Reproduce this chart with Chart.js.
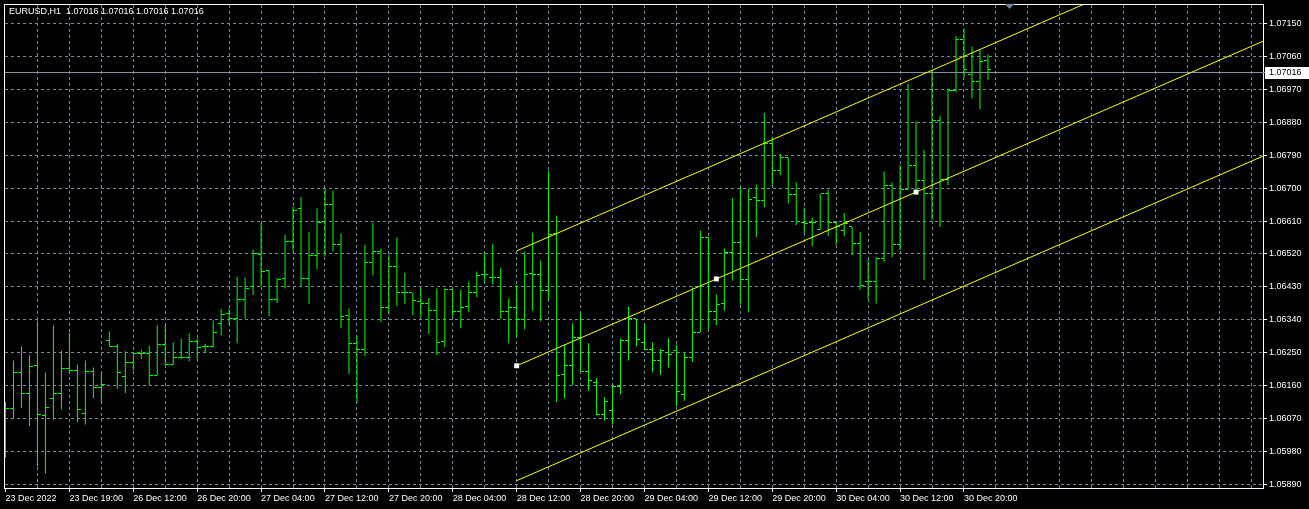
<!DOCTYPE html>
<html><head><meta charset="utf-8">
<script src="https://cdn.jsdelivr.net/npm/chart.js@4.4.0/dist/chart.umd.min.js"></script>
<style>html,body{margin:0;padding:0;background:#000;overflow:hidden}canvas{display:block}</style>
</head><body>
<canvas id="c" width="1309" height="509" style="width:1309px;height:509px"></canvas>
<script>
// ---- data (EURUSD H1) ----
const titleText = 'EURUSD,H1  1.07016 1.07016 1.07016 1.07016';
const opens = [
1.06084,1.06097,1.06195,1.06138,1.06215,1.06078,1.06125,1.06138,1.06206,1.06201,
1.06084,1.06198,1.06156,1.06283,1.06267,1.06185,1.06223,1.06247,1.06247,1.06187,
1.06273,1.06217,1.06236,1.06236,1.06280,1.06266,1.06266,1.06329,1.06356,1.06345,
1.06395,1.06430,1.06518,1.06474,1.06395,1.06452,1.06555,1.06643,1.06452,1.06517,
1.06608,1.06656,1.06545,1.06351,1.06275,1.06258,1.06498,1.06528,1.06373,1.06487,
1.06416,1.06414,1.06389,1.06384,1.06365,1.06280,1.06422,1.06362,1.06376,1.06416,
1.06463,1.06457,1.06455,1.06362,1.06373,1.06340,1.06468,1.06463,1.06419,1.06577,
1.06190,1.06215,1.06291,1.06200,1.06168,1.06082,1.06093,1.06159,1.06284,1.06343,
1.06277,1.06260,1.06230,1.06252,1.06255,1.06136,1.06236,1.06306,1.06565,1.06362,
1.06386,1.06525,1.06552,1.06449,1.06673,1.06667,1.06822,1.06748,1.06783,1.06682,
1.06607,1.06605,1.06586,1.06684,1.06605,1.06583,1.06594,1.06550,1.06444,1.06446,
1.06509,1.06708,1.06547,1.06697,1.06763,1.06721,1.06686,1.06886,1.06724,1.06966,
1.07106,1.07011,1.06992,1.07049,1.07016];
const highs = [
1.06116,1.06229,1.06267,1.06243,1.06338,1.06196,1.06325,1.06256,1.06305,1.06218,
1.06229,1.06210,1.06195,1.06308,1.06275,1.06254,1.06250,1.06258,1.06270,1.06325,
1.06325,1.06278,1.06289,1.06303,1.06289,1.06275,1.06338,1.06368,1.06371,1.06458,
1.06455,1.06532,1.06605,1.06474,1.06455,1.06573,1.06649,1.06676,1.06581,1.06644,
1.06698,1.06693,1.06576,1.06371,1.06297,1.06545,1.06605,1.06534,1.06517,1.06565,
1.06469,1.06414,1.06426,1.06399,1.06426,1.06425,1.06422,1.06422,1.06445,1.06472,
1.06523,1.06548,1.06482,1.06399,1.06435,1.06526,1.06578,1.06502,1.06747,1.06625,
1.06273,1.06331,1.06359,1.06276,1.06181,1.06129,1.06160,1.06289,1.06375,1.06343,
1.06328,1.06278,1.06261,1.06290,1.06272,1.06250,1.06429,1.06584,1.06567,1.06409,
1.06535,1.06674,1.06704,1.06698,1.06709,1.06905,1.06840,1.06793,1.06783,1.06716,
1.06647,1.06619,1.06684,1.06695,1.06605,1.06632,1.06594,1.06580,1.06504,1.06512,
1.06746,1.06716,1.06763,1.06986,1.06883,1.06804,1.07022,1.06898,1.06972,1.07115,
1.07136,1.07087,1.07079,1.07066,1.07016];
const lows = [
1.05964,1.06070,1.06099,1.06050,1.05940,1.05920,1.06067,1.06096,1.06195,1.06061,
1.06054,1.06126,1.06115,1.06267,1.06151,1.06140,1.06202,1.06233,1.06162,1.06187,
1.06217,1.06217,1.06233,1.06227,1.06233,1.06250,1.06264,1.06297,1.06325,1.06276,
1.06344,1.06407,1.06431,1.06350,1.06386,1.06426,1.06527,1.06431,1.06383,1.06478,
1.06513,1.06527,1.06317,1.06192,1.06115,1.06241,1.06461,1.06334,1.06355,1.06377,
1.06383,1.06352,1.06347,1.06301,1.06244,1.06266,1.06347,1.06317,1.06361,1.06402,
1.06443,1.06437,1.06342,1.06276,1.06293,1.06314,1.06365,1.06336,1.06395,1.06115,
1.06126,1.06161,1.06200,1.06146,1.06079,1.06064,1.06054,1.06135,1.06229,1.06267,
1.06257,1.06197,1.06189,1.06210,1.06104,1.06119,1.06225,1.06306,1.06315,1.06326,
1.06365,1.06447,1.06381,1.06361,1.06566,1.06647,1.06708,1.06735,1.06658,1.06599,
1.06577,1.06541,1.06586,1.06569,1.06545,1.06569,1.06517,1.06422,1.06397,1.06385,
1.06498,1.06511,1.06530,1.06697,1.06685,1.06449,1.06613,1.06594,1.06708,1.06962,
1.07003,1.06945,1.06915,1.06996,1.07016];
const closes = [
1.06097,1.06195,1.06138,1.06213,1.06081,1.06100,1.06138,1.06206,1.06201,1.06095,
1.06198,1.06156,1.06163,1.06267,1.06195,1.06223,1.06247,1.06247,1.06187,1.06273,
1.06217,1.06236,1.06236,1.06280,1.06264,1.06266,1.06305,1.06354,1.06343,1.06395,
1.06425,1.06520,1.06471,1.06395,1.06450,1.06553,1.06640,1.06452,1.06517,1.06605,
1.06656,1.06547,1.06348,1.06275,1.06258,1.06498,1.06528,1.06373,1.06487,1.06416,
1.06414,1.06392,1.06384,1.06365,1.06277,1.06422,1.06362,1.06373,1.06416,1.06460,
1.06463,1.06457,1.06362,1.06373,1.06340,1.06465,1.06463,1.06419,1.06574,1.06187,
1.06215,1.06291,1.06200,1.06174,1.06082,1.06116,1.06159,1.06284,1.06343,1.06285,
1.06260,1.06230,1.06255,1.06246,1.06144,1.06236,1.06306,1.06565,1.06362,1.06383,
1.06525,1.06552,1.06449,1.06670,1.06667,1.06822,1.06749,1.06783,1.06682,1.06610,
1.06602,1.06605,1.06684,1.06605,1.06594,1.06602,1.06550,1.06433,1.06444,1.06509,
1.06708,1.06547,1.06697,1.06763,1.06721,1.06686,1.06886,1.06724,1.06966,1.07106,
1.07025,1.06992,1.07046,1.07024,1.07016];
const xTickLabels = ['23 Dec 2022','23 Dec 19:00','26 Dec 12:00','26 Dec 20:00','27 Dec 04:00',
  '27 Dec 12:00','27 Dec 20:00','28 Dec 04:00','28 Dec 12:00','28 Dec 20:00','29 Dec 04:00',
  '29 Dec 12:00','29 Dec 20:00','30 Dec 04:00','30 Dec 12:00','30 Dec 20:00'];
const barsPerLabel = 8;
const barsPerGrid = 4;
const yTicks = [1.05890,1.05980,1.06070,1.06160,1.06250,1.06340,1.06430,1.06520,1.06610,1.06700,1.06790,1.06880,1.06970,1.07060,1.07150];
const currentPrice = 1.07016;
const channelBars = [64, 89, 114];
const channelMid = [1.062145, 1.064518, 1.066891];
const channelHalfWidth = 0.00314;
const xMin = -0.0625, xMax = 157.4375;
const yMin = 1.0588045, yMax = 1.0720045;
const shiftMarkerBar = 125.7;

// ---- styles ----
const GREEN = '#00ff00', GRID = '#778899', YELLOW = '#ffff00';
const FONT = {family: "'Liberation Sans', Arial, sans-serif", size: 9};

function tickImage(left) {
  const c = document.createElement('canvas');
  c.width = 7; c.height = 1;
  const g = c.getContext('2d');
  g.fillStyle = GREEN;
  g.fillRect(left ? 0 : 4, 0, 3, 1);
  return c;
}
const openImg = tickImage(true), closeImg = tickImage(false);

const idx = opens.map((_, i) => i);
const slope = (channelMid[channelMid.length - 1] - channelMid[0]) / (channelBars[channelBars.length - 1] - channelBars[0]);
const midAt = x => channelMid[0] + (x - channelBars[0]) * slope;
function channelLine(off) {
  return [{x: channelBars[0], y: midAt(channelBars[0]) + off}, {x: xMax, y: midAt(xMax) + off}];
}

const framePlugin = {
  id: 'frame',
  beforeDatasetsDraw(chart) { chart.ctx.imageSmoothingEnabled = false; },
  afterDraw(chart) {
    const {ctx, chartArea: a} = chart;
    const ys = chart.scales.y, xs = chart.scales.x;
    ctx.save();
    ctx.strokeStyle = '#ffffff'; ctx.lineWidth = 1;
    ctx.strokeRect(a.left - 0.5, a.top - 0.5, a.right - a.left + 1, a.bottom - a.top + 1);
    // chart shift marker
    const mx = xs.getPixelForValue(shiftMarkerBar);
    ctx.fillStyle = GRID;
    ctx.beginPath(); ctx.moveTo(mx - 4.5, a.top - 1); ctx.lineTo(mx + 4.5, a.top - 1); ctx.lineTo(mx, a.top + 4); ctx.closePath(); ctx.fill();
    // title
    ctx.font = "9px 'Liberation Sans', Arial, sans-serif";
    ctx.fillStyle = '#ffffff'; ctx.textBaseline = 'middle'; ctx.textAlign = 'left';
    ctx.fillText(titleText, a.left + 4, a.top + 7);
    // current price label
    const py = ys.getPixelForValue(currentPrice);
    ctx.strokeStyle = '#8a96a3';
    ctx.beginPath(); ctx.moveTo(a.right, Math.round(py) + 0.5); ctx.lineTo(a.right + 2, Math.round(py) + 0.5); ctx.stroke();
    ctx.fillStyle = '#ffffff';
    ctx.fillRect(a.right + 2, Math.round(py) - 5, chart.width - a.right - 2, 12);
    ctx.fillStyle = '#000000';
    ctx.fillText(currentPrice.toFixed(5), a.right + 6, Math.round(py) + 1);
    ctx.restore();
  }
};

Chart.defaults.font = FONT;
Chart.defaults.color = '#ffffff';

new Chart(document.getElementById('c'), {
  type: 'bar',
  data: {
    datasets: [
      {type: 'line', order: 0, data: channelBars.map((b, i) => ({x: b, y: channelMid[i]})), showLine: false,
       pointStyle: 'rect', pointRadius: 3.5, backgroundColor: '#ffffff', borderColor: '#ffffff', borderWidth: 0},
      {type: 'line', order: 1, data: channelLine(channelHalfWidth), borderColor: YELLOW, borderWidth: 1, pointRadius: 0, fill: false},
      {type: 'line', order: 1, data: channelLine(0), borderColor: YELLOW, borderWidth: 1, pointRadius: 0, fill: false},
      {type: 'line', order: 1, data: channelLine(-channelHalfWidth), borderColor: YELLOW, borderWidth: 1, pointRadius: 0, fill: false},
      {type: 'line', order: 2, data: [{x: xMin, y: currentPrice}, {x: xMax, y: currentPrice}], borderColor: '#8a96a3', borderWidth: 1, pointRadius: 0, fill: false},
      {type: 'line', order: 3, data: idx.map(i => ({x: i, y: opens[i]})), showLine: false, pointStyle: openImg, pointRadius: 1},
      {type: 'line', order: 3, data: idx.map(i => ({x: i, y: closes[i]})), showLine: false, pointStyle: closeImg, pointRadius: 1},
      {type: 'bar', order: 4, data: idx.map(i => ({x: i, y: [lows[i], highs[i]]})), backgroundColor: GREEN,
       borderWidth: 0, barThickness: 1, inflateAmount: 0, borderSkipped: false}
    ]
  },
  options: {
    responsive: false, animation: false, devicePixelRatio: 1, events: [],
    layout: {padding: {left: 3, top: 4, right: 0, bottom: 0}},
    plugins: {legend: {display: false}, tooltip: {enabled: false}, title: {display: false}},
    scales: {
      x: {
        type: 'linear', position: 'bottom', min: xMin, max: xMax, offset: false,
        afterFit(s) { s.height = 21; s.paddingLeft = 0; s.paddingRight = 0; },
        afterBuildTicks(s) { const t = []; for (let v = 0; v <= xMax; v += barsPerGrid) t.push({value: v}); s.ticks = t; },
        ticks: {
          autoSkip: false, maxRotation: 0, minRotation: 0, align: 'start', padding: 1, color: '#ffffff', font: FONT,
          callback(v) { return (v % barsPerLabel === 0 && xTickLabels[v / barsPerLabel]) ? xTickLabels[v / barsPerLabel] : ''; }
        },
        grid: {
          offset: false, drawOnChartArea: true, lineWidth: 1, tickLength: 4,
          color: c => (c.tick && c.tick.value === 0) ? 'rgba(0,0,0,0)' : GRID,
          tickColor: c => (c.tick && c.tick.value % barsPerLabel === 0 && xTickLabels[c.tick.value / barsPerLabel]) ? '#ffffff' : 'rgba(0,0,0,0)'
        },
        border: {display: false, dash: [3, 3]}
      },
      y: {
        type: 'linear', position: 'right', min: yMin, max: yMax,
        afterFit(s) { s.width = 46; s.paddingTop = 0; s.paddingBottom = 0; },
        afterBuildTicks(s) { s.ticks = yTicks.map(v => ({value: v})); },
        ticks: {autoSkip: false, padding: 2, color: '#ffffff', font: FONT, callback: v => Number(v).toFixed(5)},
        grid: {lineWidth: 1, tickLength: 4, color: GRID, tickColor: '#ffffff'},
        border: {display: false, dash: [3, 3]}
      }
    }
  },
  plugins: [framePlugin]
});
</script>
</body></html>
